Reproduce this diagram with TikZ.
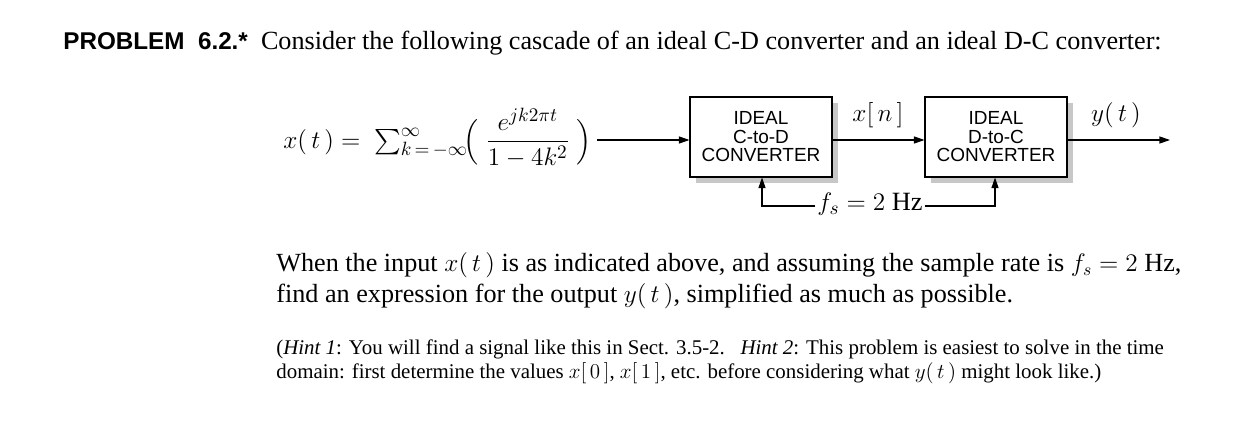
\documentclass[tikz,border=0pt]{standalone}
\usepackage{amsmath}
\usepackage{fontspec}
\setmainfont{Liberation Serif}
\setsansfont{Liberation Sans}
\usetikzlibrary{arrows.meta}
\begin{document}
\begin{tikzpicture}[x=0.02cm,y=-0.02cm,
  blk/.style={draw,line width=0.6pt,fill=white,minimum width=142*0.02cm,minimum height=80*0.02cm,align=center,font=\sffamily\fontsize{10.8}{10.5}\selectfont,inner sep=0pt},
  shd/.style={fill=black!22,draw=none,minimum width=142*0.02cm,minimum height=80*0.02cm},
  arr/.style={-{Triangle[length=6pt,width=4pt]},line width=0.6pt},
  txt/.style={anchor=west,inner sep=0pt,font=\fontsize{14.9}{17.5}\selectfont},
  hint/.style={anchor=west,inner sep=0pt,font=\fontsize{11.9}{13.6}\selectfont}]
\useasboundingbox (0,0) rectangle (1246,438);
\node[txt] (title) at (63,43) {{\sffamily\bfseries\fontsize{13.8}{16}\selectfont PROBLEM\ \ 6.2.*}\ \ Consider the following cascade of an ideal C-D converter and an ideal D-C converter:};
\node[anchor=west,inner sep=0pt,font=\fontsize{15.5}{17}\selectfont] (xt) at (283,138) {$x(\,t\,) =\ {\textstyle\sum}_{k\,=\,-\infty}^{\infty}\!\Bigl(\ \dfrac{e^{jk2\pi t}}{1-4k^2}\ \Bigr)$};
\node[shd] (s1) at (767,143) {};
\node[blk] (b1) at (761,137) {IDEAL\\C-to-D\\CONVERTER};
\node[shd] (s2) at (1002,143) {};
\node[blk] (b2) at (996,137) {IDEAL\\D-to-C\\CONVERTER};
\coordinate (in) at (597,140);
\coordinate (out) at (1170,140);
\draw[arr] (in) -- (in -| b1.west);
\draw[arr] (b1.east |- 0,140) -- (b2.west |- 0,140);
\draw[arr] (b2.east |- 0,140) -- (out);
\node[font=\fontsize{15}{17}\selectfont] (xn) at (878,115) {$x[\,n\,]$};
\node[font=\fontsize{15}{17}\selectfont] (yt) at (1116,115) {$y(\,t\,)$};
\node[font=\fontsize{15}{17}\selectfont,inner sep=1pt] (fs) at (870,204) {$f_{s} = 2$ Hz};
\coordinate (c1) at (762,206);
\coordinate (c2) at (995,206);
\draw[arr] (fs.west |- c1) -- (c1) -- (c1 |- b1.south);
\draw[arr] (fs.east |- c2) -- (c2) -- (c2 |- b2.south);
\node[txt] (p1) at (276,265) {When the input $x(\,t\,)$ is as indicated above, and assuming the sample rate is $f_{s} = 2$ Hz,};
\node[txt] (p2) at (276,296) {find an expression for the output $y(\,t\,)$, simplified as much as possible.};
\node[hint] (h1) at (276,349) {(\textit{Hint 1}: You will find a signal like this in Sect. 3.5-2.\ \ \ \textit{Hint 2}: This problem is easiest to solve in the time};
\node[hint] (h2) at (276,373) {domain: first determine the values $x[\,0\,]$, $x[\,1\,]$, etc. before considering what $y(\,t\,)$ might look like.)};
\end{tikzpicture}
\end{document}
